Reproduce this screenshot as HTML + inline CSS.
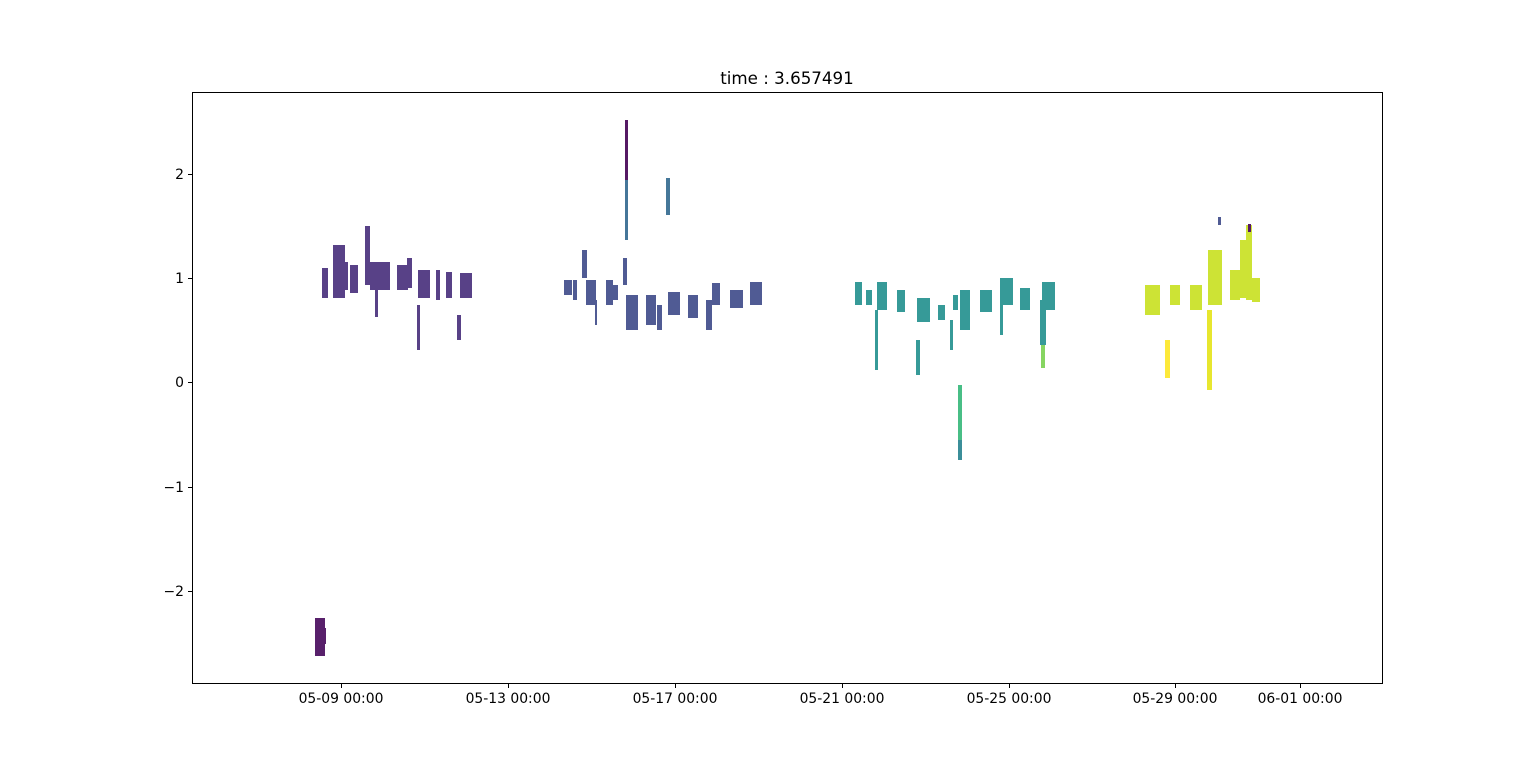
<!DOCTYPE html>
<html><head><meta charset="utf-8"><style>
body{margin:0;background:#fff;}
svg text{font-family:"DejaVu Sans","Liberation Sans",sans-serif;}
</style></head><body>
<svg width="1536" height="767" viewBox="0 0 1536 767" xmlns="http://www.w3.org/2000/svg">
<rect width="1536" height="767" fill="#fff"/>
<text x="787" y="84" font-size="16.7" text-anchor="middle" fill="#000">time : 3.657491</text>
<g opacity="0.9">
<!-- cluster 1 -->
<g fill="#472d7b">
<rect x="315" y="618" width="10" height="38" fill="#46085c"/>
<rect x="321" y="628" width="5" height="16" fill="#46085c"/>
<rect x="322" y="268" width="6" height="30"/>
<rect x="333" y="245" width="12" height="53"/>
<rect x="340" y="262" width="8" height="28"/>
<rect x="350" y="265" width="8" height="28"/>
<rect x="365" y="226" width="5" height="59"/>
<rect x="375" y="290" width="3" height="27"/>
<rect x="370" y="262" width="20" height="28"/>
<rect x="397" y="265" width="11" height="25"/>
<rect x="407" y="258" width="5" height="30"/>
<rect x="417" y="305" width="3" height="45"/>
<rect x="418" y="270" width="12" height="28"/>
<rect x="436" y="270" width="4" height="30"/>
<rect x="446" y="272" width="6" height="26"/>
<rect x="457" y="315" width="4" height="25"/>
<rect x="460" y="273" width="12" height="25"/>
</g>
<!-- cluster 2 -->
<g fill="#3e4a89">
<rect x="564" y="280" width="8" height="15"/>
<rect x="573" y="280" width="4" height="20"/>
<rect x="582" y="250" width="5" height="28"/>
<rect x="586" y="280" width="10" height="25"/>
<rect x="595" y="300" width="2" height="25"/>
<rect x="606" y="280" width="7" height="25"/>
<rect x="613" y="285" width="5" height="15"/>
<rect x="623" y="258" width="4" height="27"/>
<rect x="626" y="295" width="12" height="35"/>
<rect x="625" y="120" width="3" height="60" fill="#440154"/>
<rect x="625" y="180" width="3" height="60" fill="#31688e"/>
<rect x="646" y="295" width="10" height="30"/>
<rect x="657" y="305" width="5" height="25"/>
<rect x="666" y="178" width="4" height="37" fill="#31688e"/>
<rect x="668" y="292" width="12" height="23"/>
<rect x="688" y="295" width="10" height="23"/>
<rect x="706" y="300" width="6" height="30"/>
<rect x="712" y="283" width="8" height="22"/>
<rect x="730" y="290" width="13" height="18"/>
<rect x="750" y="282" width="12" height="23"/>
</g>
<!-- cluster 3 -->
<g fill="#21908d">
<rect x="855" y="282" width="7" height="23"/>
<rect x="866" y="290" width="6" height="15"/>
<rect x="875" y="310" width="3" height="60"/>
<rect x="877" y="282" width="10" height="28"/>
<rect x="897" y="290" width="8" height="22"/>
<rect x="916" y="340" width="4" height="35"/>
<rect x="917" y="298" width="13" height="24"/>
<rect x="938" y="305" width="7" height="15"/>
<rect x="950" y="320" width="3" height="30"/>
<rect x="953" y="295" width="5" height="15"/>
<rect x="958" y="385" width="4" height="55" fill="#35b779"/>
<rect x="958" y="440" width="4" height="20" fill="#26828e"/>
<rect x="960" y="290" width="10" height="40"/>
<rect x="980" y="290" width="12" height="22"/>
<rect x="1000" y="305" width="3" height="30"/>
<rect x="1000" y="278" width="13" height="27"/>
<rect x="1020" y="288" width="10" height="22"/>
<rect x="1040" y="300" width="6" height="45"/>
<rect x="1041" y="345" width="4" height="23" fill="#7ad151"/>
<rect x="1042" y="282" width="13" height="28"/>
</g>
<!-- cluster 4 -->
<g fill="#c8e020">
<rect x="1145" y="285" width="15" height="30"/>
<rect x="1165" y="340" width="5" height="38" fill="#fde725"/>
<rect x="1170" y="285" width="10" height="20"/>
<rect x="1190" y="285" width="12" height="25"/>
<rect x="1207" y="310" width="5" height="80" fill="#e5e419"/>
<rect x="1208" y="250" width="14" height="55"/>
<rect x="1230" y="270" width="10" height="30"/>
<rect x="1240" y="240" width="6" height="58"/>
<rect x="1246" y="225" width="6" height="75"/>
<rect x="1248" y="224" width="3" height="8" fill="#440154"/>
<rect x="1218" y="217" width="3" height="8" fill="#3e4a89"/>
<rect x="1252" y="278" width="8" height="24"/>
</g>
</g>
<!-- axes -->
<rect x="192.5" y="92.5" width="1190" height="591" fill="none" stroke="#000" stroke-width="1"/>
<g stroke="#000" stroke-width="1">
<line x1="192" y1="174.5" x2="188" y2="174.5"/>
<line x1="192" y1="278.5" x2="188" y2="278.5"/>
<line x1="192" y1="382.5" x2="188" y2="382.5"/>
<line x1="192" y1="487.5" x2="188" y2="487.5"/>
<line x1="192" y1="591.5" x2="188" y2="591.5"/>
<line x1="341.5" y1="684" x2="341.5" y2="688"/>
<line x1="508.5" y1="684" x2="508.5" y2="688"/>
<line x1="675.5" y1="684" x2="675.5" y2="688"/>
<line x1="842.5" y1="684" x2="842.5" y2="688"/>
<line x1="1009.5" y1="684" x2="1009.5" y2="688"/>
<line x1="1175.5" y1="684" x2="1175.5" y2="688"/>
<line x1="1300.5" y1="684" x2="1300.5" y2="688"/>
</g>
<g font-size="13.9" fill="#000" text-anchor="end">
<text x="184" y="179">2</text>
<text x="184" y="283">1</text>
<text x="184" y="387">0</text>
<text x="184" y="492">−1</text>
<text x="184" y="596">−2</text>
</g>
<g font-size="13.9" fill="#000" text-anchor="middle">
<text x="341" y="703">05-09 00:00</text>
<text x="508" y="703">05-13 00:00</text>
<text x="675" y="703">05-17 00:00</text>
<text x="842" y="703">05-21 00:00</text>
<text x="1009" y="703">05-25 00:00</text>
<text x="1175" y="703">05-29 00:00</text>
<text x="1300" y="703">06-01 00:00</text>
</g>
</svg>
</body></html>
